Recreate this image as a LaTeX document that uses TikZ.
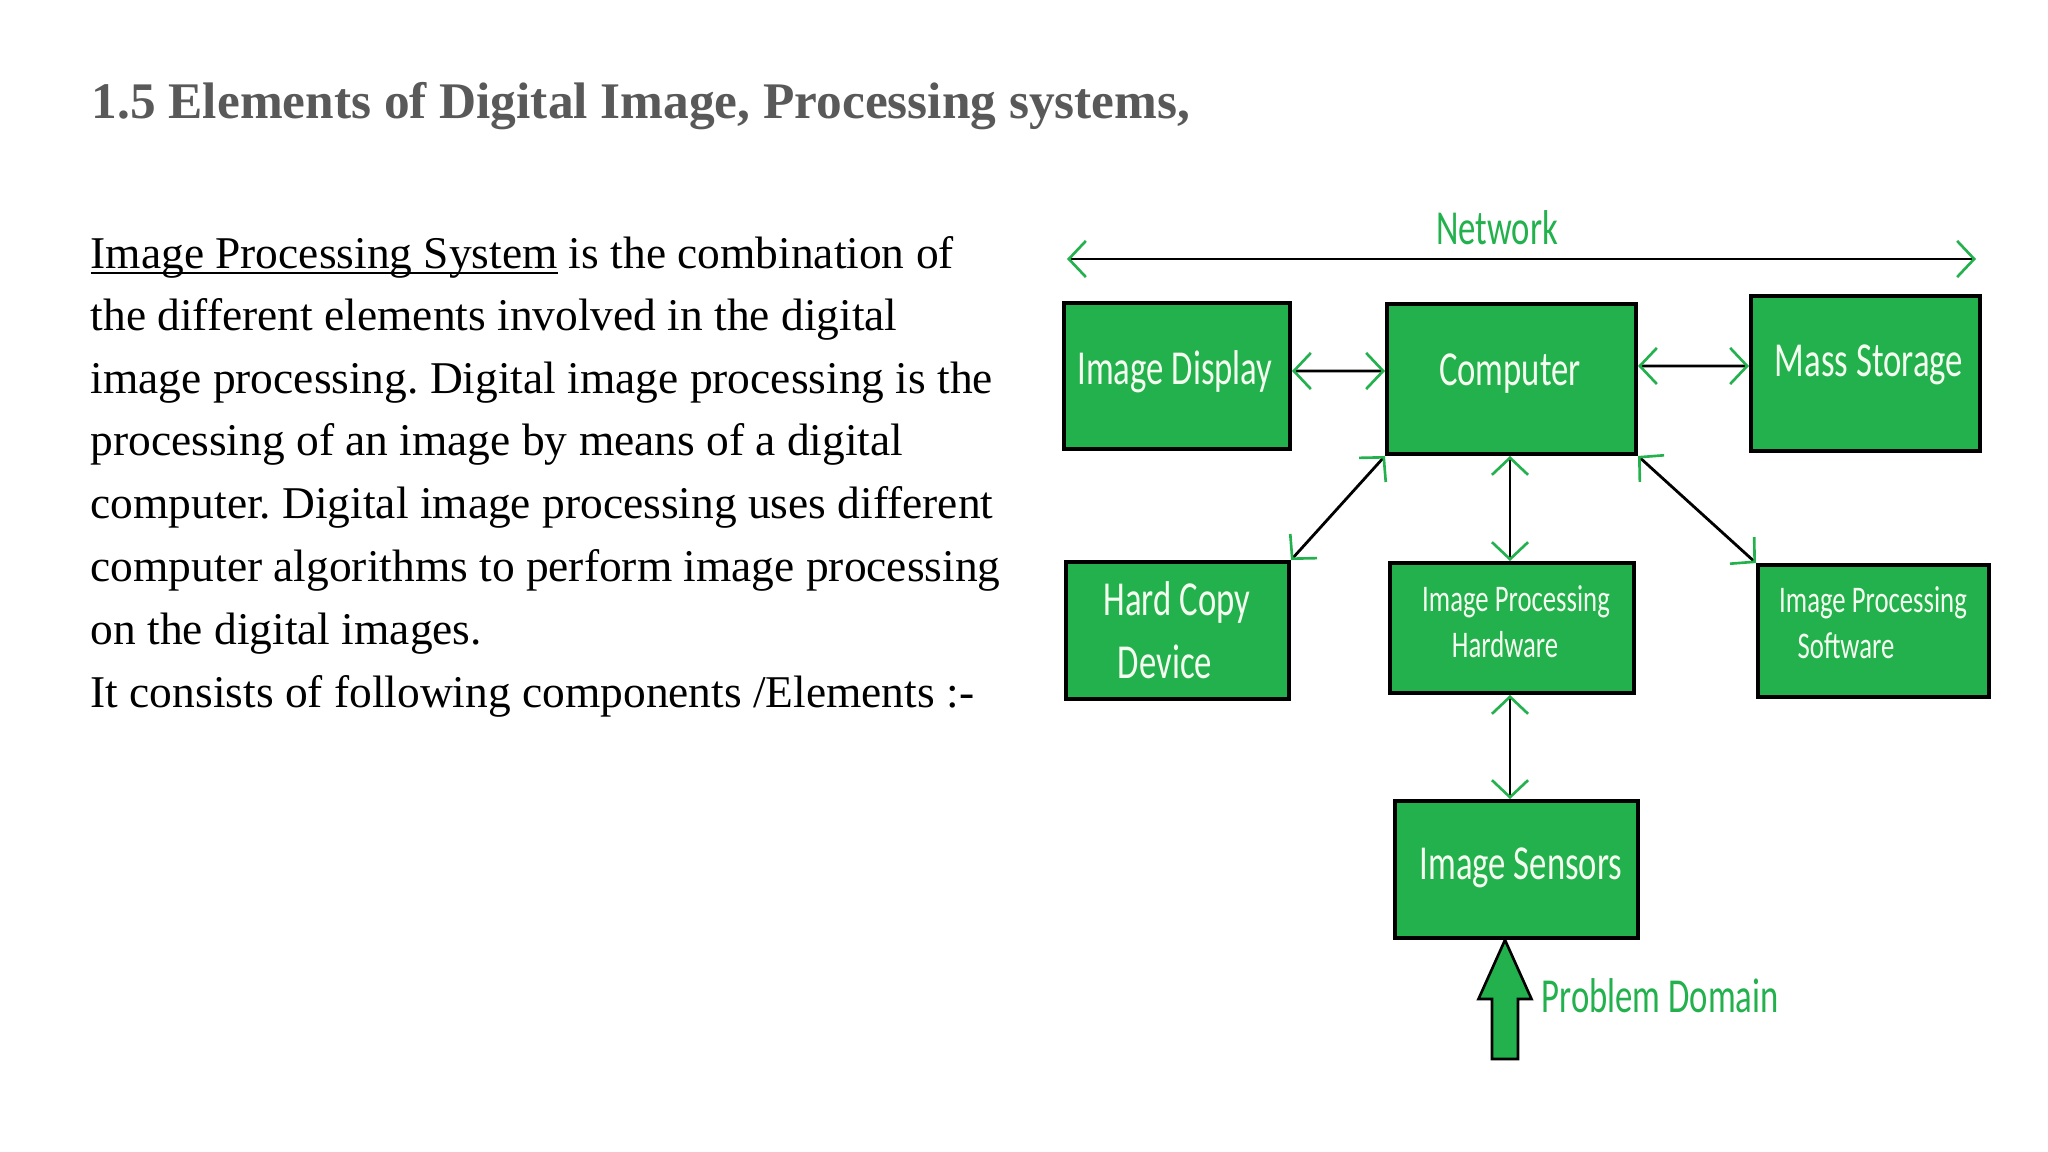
\documentclass[tikz,border=0pt]{standalone}
\usepackage{fontspec}
\setmainfont{Liberation Serif}
\newfontfamily\diagfont[FakeStretch=0.71]{Carlito}
\usetikzlibrary{arrows.meta}
\definecolor{dg}{HTML}{22B14C}
\definecolor{titlegray}{HTML}{595959}
\definecolor{boxtext}{HTML}{F4FFF0}
\newcommand\myuline[1]{\setbox0\hbox{#1}\rlap{\rule[-1.7pt]{\wd0}{0.75pt}}\box0\relax}
\frenchspacing
\tikzset{
  barb/.tip={Straight Barb[length=0.17cm,width=0.36cm,line width=0.75pt,color=dg]},
  bodyline/.style={anchor=base west,inner sep=0pt,font=\fontsize{12.92}{15}\selectfont},
  titleline/.style={anchor=base west,inner sep=0pt,text=titlegray,font=\fontsize{14.6}{17}\selectfont\bfseries},
  gbox/.style={draw=black,fill=dg,line width=1.1pt,inner sep=0pt,rectangle},
  bigtxt/.style={anchor=base,inner sep=0pt,text=boxtext,font=\diagfont\fontsize{13.9}{16}\selectfont},
  smalltxt/.style={anchor=base,inner sep=0pt,text=boxtext,font=\diagfont\fontsize{10.7}{13}\selectfont},
  greentxt/.style={inner sep=0pt,text=dg,font=\diagfont\fontsize{13.9}{16}\selectfont},
  conn/.style={draw=black,line width=0.8pt,arrows={barb-barb}},
  blockarrow/.style={draw=black,fill=dg,line width=0.75pt,line join=miter}
}
\begin{document}
\begin{tikzpicture}[x=0.01cm,y=-0.01cm]
\useasboundingbox (0,0) rectangle (2048,1152);
\fill[white] (0,0) rectangle (2048,1152);

% title and body text
\node[titleline] (title) at (91,119) {1.5 Elements of Digital Image, Processing systems,};
\node[bodyline] (l1) at (90,268.5) {\myuline{Image Processing System} is the combination of};
\node[bodyline] (l2) at (90,331) {the different elements involved in the digital};
\node[bodyline] (l3) at (90,394) {image processing. Digital image processing is the};
\node[bodyline] (l4) at (90,456) {processing of an image by means of a digital};
\node[bodyline] (l5) at (90,519) {computer. Digital image processing uses different};
\node[bodyline] (l6) at (90,582) {computer algorithms to perform image processing};
\node[bodyline] (l7) at (90,644) {on the digital images.};
\node[bodyline] (l8) at (90,707) {It consists of following components /Elements :-};

% network
\coordinate (netL) at (1067,259);
\coordinate (netR) at (1976,259);
\draw[draw=black,line width=0.85pt,arrows={barb-barb}] (netL) -- (netR);
\node[greentxt,anchor=base] (net) at (1497,245) {Network};

% boxes
\node[gbox,minimum width=2.26cm,minimum height=1.46cm] (id) at (1177,376) {};
\node[gbox,minimum width=2.49cm,minimum height=1.50cm] (cmp) at (1511.5,379) {};
\node[gbox,minimum width=2.29cm,minimum height=1.55cm] (ms) at (1865.5,373.5) {};
\node[gbox,minimum width=2.23cm,minimum height=1.37cm] (hc) at (1177.5,630.5) {};
\node[gbox,minimum width=2.44cm,minimum height=1.30cm] (hw) at (1512,628) {};
\node[gbox,minimum width=2.31cm,minimum height=1.32cm] (sw) at (1873.5,631) {};
\node[gbox,minimum width=2.43cm,minimum height=1.37cm] (is) at (1516.5,869.5) {};

% box texts
\node[bigtxt] (idT) at (1175,385) {Image Display};
\node[bigtxt] (cmpT) at (1510,386) {Computer};
\node[bigtxt] (msT) at (1869,377) {Mass Storage};
\node[bigtxt] (hcT1) at (1177,615) {Hard Copy};
\node[bigtxt] (hcT2) at (1165,678) {Device};
\node[smalltxt] (hwT1) at (1516,612) {Image Processing};
\node[smalltxt] (hwT2) at (1505,657) {Hardware};
\node[smalltxt] (swT1) at (1873,613) {Image Processing};
\node[smalltxt] (swT2) at (1846,658) {Software};
\node[bigtxt] (isT) at (1521,879) {Image Sensors};

% connectors
\draw[conn] ([yshift=0.05cm]id.east) -- ([yshift=0.08cm]cmp.west);
\draw[conn] ([yshift=0.13cm]cmp.east) -- ([yshift=0.075cm]ms.west);
\draw[conn] (cmp.south west) -- (hc.north east);
\draw[conn] ([xshift=-0.015cm]cmp.south) -- ([xshift=-0.015cm]cmp.south |- hw.north);
\draw[conn] (cmp.south east) -- (sw.north west);
\draw[conn] ([xshift=-0.02cm]hw.south) -- ([xshift=-0.02cm]hw.south |- is.north);

% problem domain block arrow
\coordinate (tip) at ([xshift=-0.115cm]is.south);
\draw[blockarrow] (tip) -- ++(26.5,59) -- ++(-13.5,0) -- ++(0,60) -- ++(-26,0)
  -- ++(0,-60) -- ++(-13.5,0) -- cycle;
\node[greentxt,anchor=base west] (pd) at (1541,1012) {Problem Domain};
\end{tikzpicture}
\end{document}
